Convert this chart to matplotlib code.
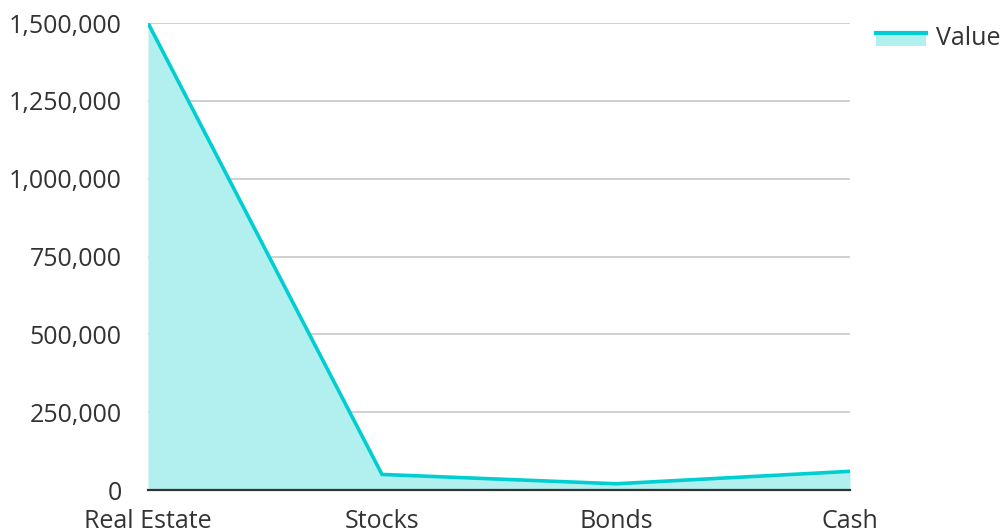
import matplotlib
matplotlib.use("Agg")
import matplotlib.pyplot as plt
from matplotlib.ticker import FuncFormatter
from matplotlib.patches import Rectangle
from matplotlib.lines import Line2D
from matplotlib.legend_handler import HandlerBase

categories = ["Real Estate", "Stocks", "Bonds", "Cash"]
values = [1500000, 50000, 20000, 60000]
yticks = [0, 250000, 500000, 750000, 1000000, 1250000, 1500000]
series_name = "Value"

line_color = "#00CED1"
fill_color = "#B2EFEF"

plt.rcParams['font.family'] = ['Open Sans', 'DejaVu Sans']

fig = plt.figure(figsize=(10, 5.31), dpi=100)
ax = fig.add_axes([0.148, 1 - 490/531, 0.702, (490 - 23)/531])

x = list(range(len(categories)))
ax.fill_between(x, values, 0, color=fill_color, linewidth=0, zorder=1)
ax.plot(x, values, color=line_color, linewidth=2.6, zorder=3, solid_joinstyle='miter')

ax.set_xlim(0, len(categories) - 1)
ax.set_ylim(0, 1500000)
ax.set_yticks(yticks)
ax.yaxis.set_major_formatter(FuncFormatter(lambda v, p: f"{int(v):,}"))
ax.set_xticks(x)
ax.set_xticklabels(categories)
ax.grid(axis='y', color='#C8C8C8', linewidth=1.2, zorder=0)
ax.set_axisbelow(True)
for s in ['top', 'right', 'left']:
    ax.spines[s].set_visible(False)
ax.spines['bottom'].set_color('#333333')
ax.spines['bottom'].set_linewidth(1.6)
ax.spines['bottom'].set_zorder(4)
ax.tick_params(axis='both', length=0, labelsize=18, colors='#333333')
ax.tick_params(axis='y', pad=19)
ax.tick_params(axis='x', pad=14)


class AreaHandler(HandlerBase):
    def create_artists(self, legend, orig_handle, xdescent, ydescent, width, height, fontsize, trans):
        top = height * 0.7
        bottom = -ydescent - height * 0.05
        r = Rectangle((-xdescent, bottom), width, top - bottom,
                      facecolor=fill_color, edgecolor='none', transform=trans)
        l = Line2D([-xdescent, -xdescent + width], [top, top], color=line_color, linewidth=3, transform=trans)
        return [r, l]


handle = Rectangle((0, 0), 1, 1)
leg = fig.legend([handle], [series_name], handler_map={Rectangle: AreaHandler()},
                 loc='upper left', bbox_to_anchor=(0.876, 0.951), frameon=False,
                 borderpad=0, borderaxespad=0,
                 fontsize=18, handlelength=2.0, handletextpad=0.4, labelcolor='#333333')

fig.savefig("out.png", dpi=100)
